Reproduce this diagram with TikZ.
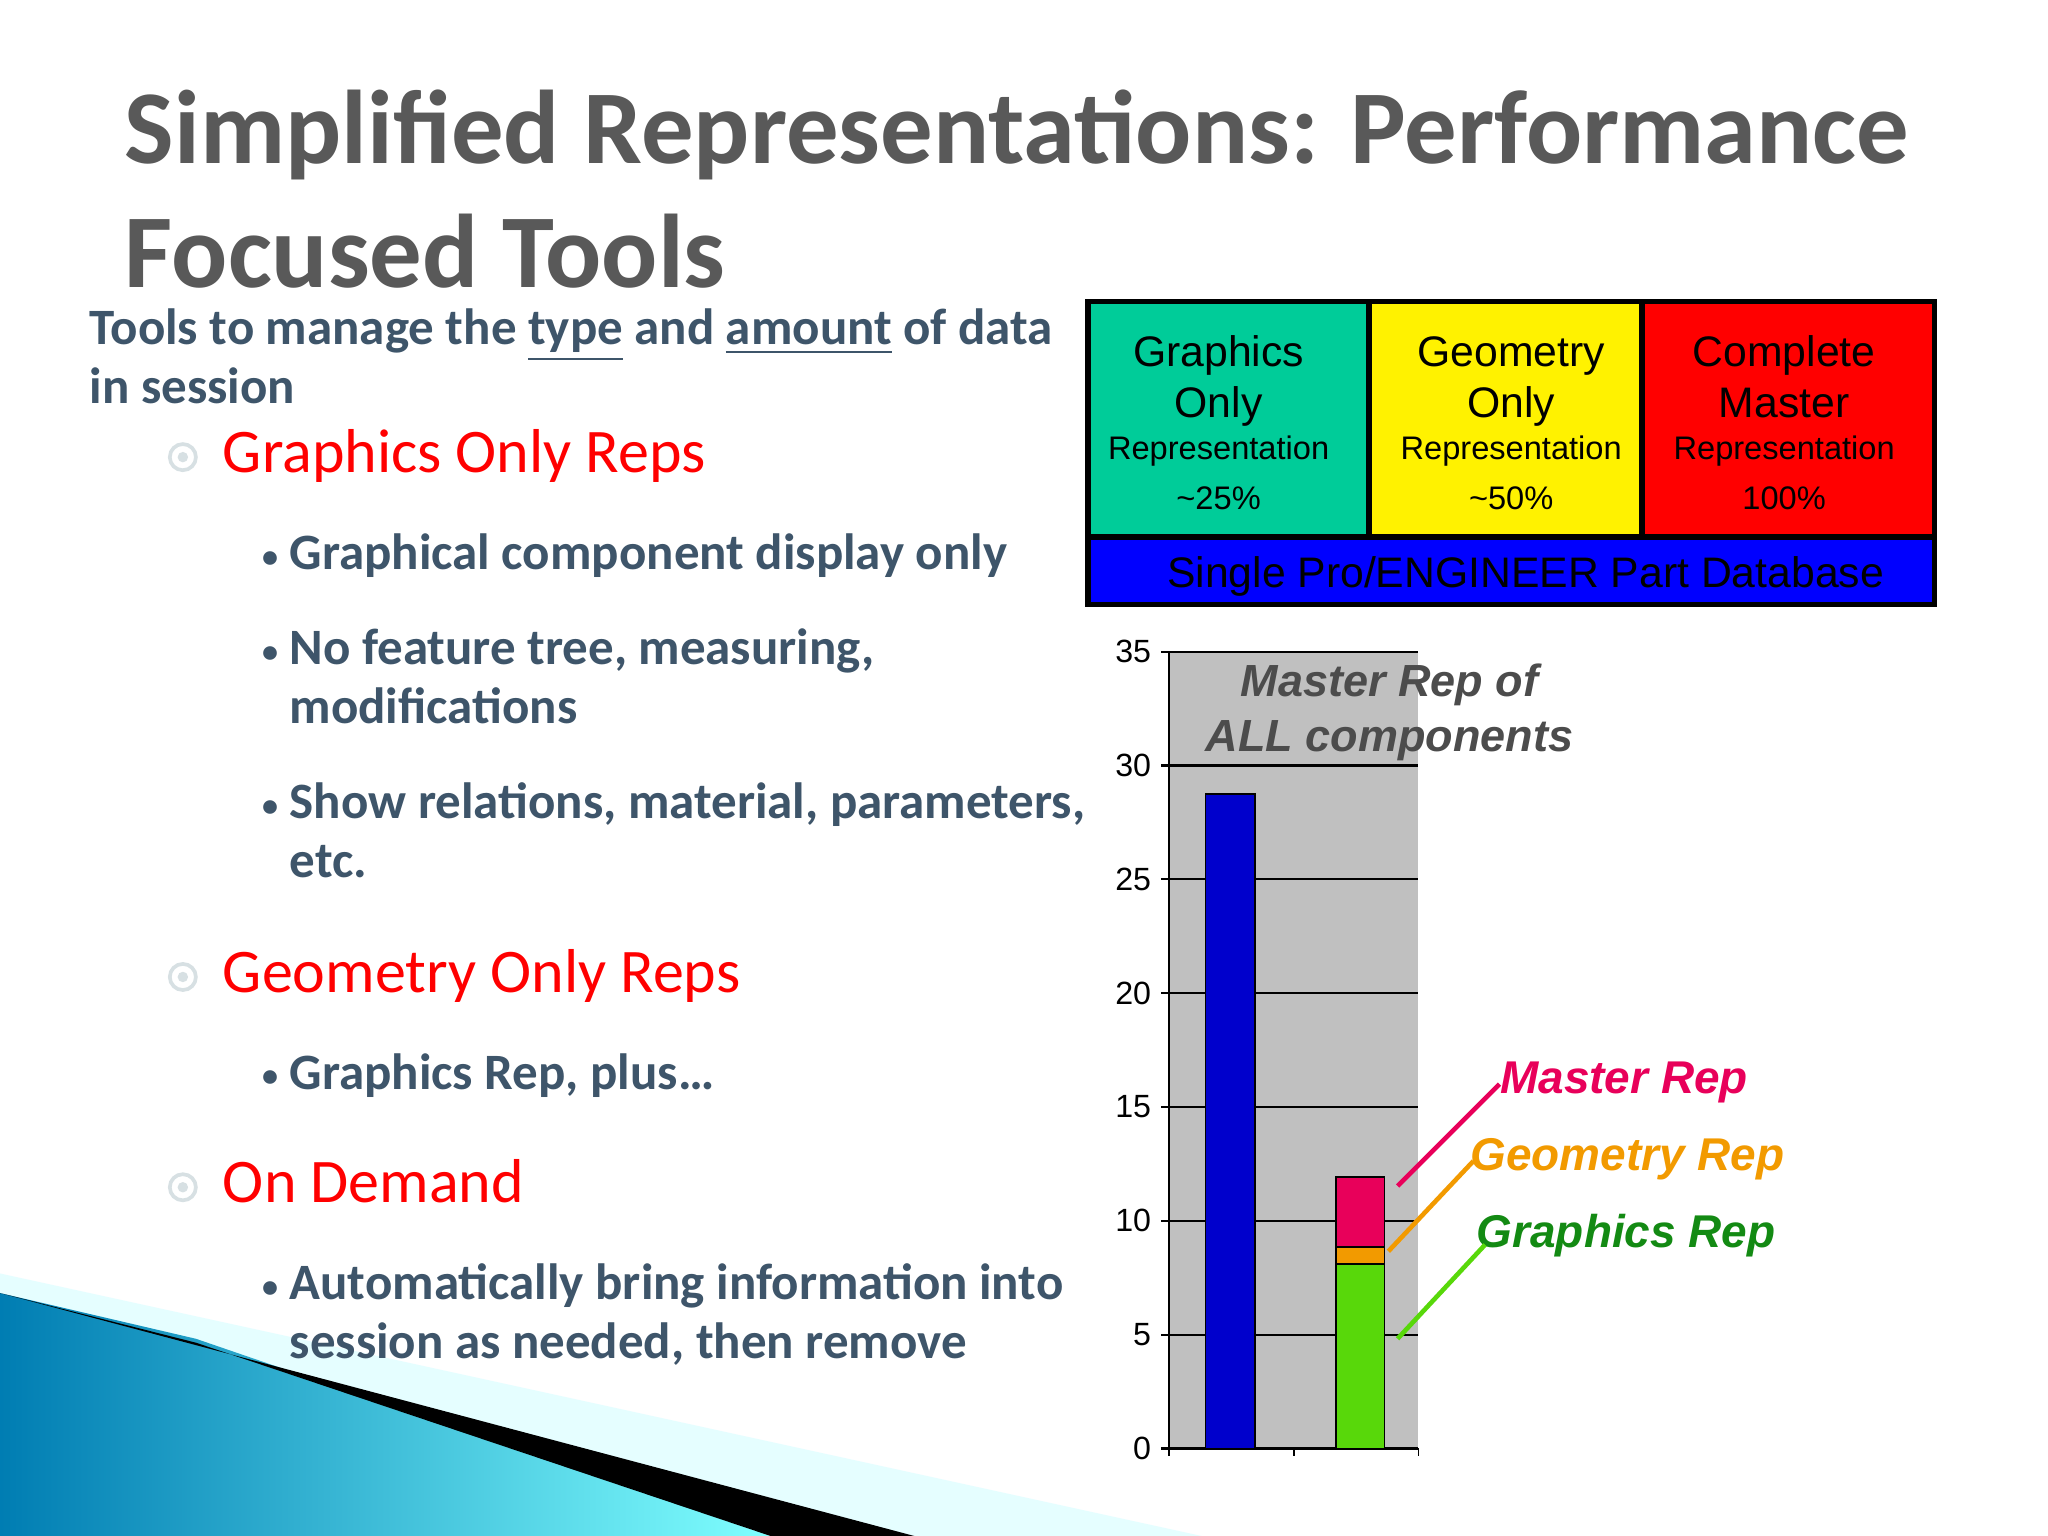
\documentclass[tikz,border=0pt]{standalone}
\usepackage{fontspec}
\setmainfont{Carlito}
\newfontfamily\arial{Liberation Sans}
\definecolor{slate}{HTML}{3E556A}
\definecolor{ttl}{HTML}{595959}
\definecolor{teal}{HTML}{00CC99}
\definecolor{mpink}{HTML}{E8005A}
\definecolor{gorange}{HTML}{F29A00}
\definecolor{ggreen}{HTML}{138A13}
\definecolor{lgreen}{HTML}{58D80A}
\definecolor{chartgray}{HTML}{C0C0C0}
\newcommand{\bul}{{\fontsize{7}{8}\selectfont\raisebox{0.15ex}{\textbullet}}\ }
\begin{document}
\begin{tikzpicture}[x=0.01cm,y=-0.01cm,
  ttlstyle/.style={anchor=base west,inner sep=0,font=\fontsize{22.8}{28}\selectfont\bfseries,text=ttl},
  body/.style={anchor=base west,inner sep=0,font=\fontsize{11.1}{12.8}\selectfont\bfseries,text=slate,align=left},
  head/.style={anchor=base west,inner sep=0,font=\fontsize{13.5}{17}\selectfont,text=red},
  cell/.style={draw=black,line width=1.2pt,inner sep=0},
  celltxt/.style={anchor=base,align=center,inner sep=0},
  bigtxt/.style={celltxt,font=\arial\fontsize{9.3}{11.3}\selectfont},
  smalltxt/.style={celltxt,font=\arial\fontsize{7.1}{10.8}\selectfont},
  ylab/.style={anchor=east,font=\arial\fontsize{7}{8}\selectfont,inner sep=0},
  leg/.style={anchor=base west,inner sep=0,font=\arial\fontsize{10}{13}\selectfont\bfseries\itshape}]
\useasboundingbox (0,0) rectangle (1568,1176);
\fill[white] (0,0) rectangle (1568,1176);
% bottom-left decoration
\fill[blue!5!cyan!10] (0,975) -- (920,1176) -- (0,1176) -- cycle;
\shade[left color=cyan!70!blue!70!black, right color=cyan!50] (0,990) -- (150,1025) -- (590,1176) -- (0,1176) -- cycle;
\fill[black] (0,990) -- (700,1176) -- (590,1176) -- (150,1028) -- cycle;
% title
\node[ttlstyle] (t1) at (95,125) {Simplified Representations: Performance};
\node[ttlstyle] (t2) at (95,220) {Focused Tools};
% body
\node[body] (b0) at (68,309) {Tools to manage the \underline{type} and \underline{amount} of data\\in session};
\foreach \y/\n in {350/c1,748/c2,909/c3}{
  \draw[cyan!20!gray!30,line width=0.8pt] (140,\y) circle (10);
  \fill[cyan!20!gray!30] (140,\y) circle (4);
}
\node[head] (h1) at (170,362) {Graphics Only Reps};
\node[body] (p1) at (200,436) {\bul Graphical component display only};
\node[body] (p2) at (200,554) {\bul No feature tree, measuring,\\\hphantom{\bul}modifications};
\node[body] (p3) at (200,672) {\bul Show relations, material, parameters,\\\hphantom{\bul}etc.};
\node[head] (h2) at (170,760) {Geometry Only Reps};
\node[body] (p4) at (200,834) {\bul Graphics Rep, plus…};
\node[head] (h3) at (170,921) {On Demand};
\node[body] (p5) at (200,1040) {\bul Automatically bring information into\\\hphantom{\bul}session as needed, then remove};
% table
\draw[cell,fill=teal] (833,231) rectangle (1048,411);
\draw[cell,fill=yellow] (1048,231) rectangle (1257,411);
\draw[cell,fill=red] (1257,231) rectangle (1481,411);
\draw[cell,fill=blue] (833,411) rectangle (1481,463);
\node[bigtxt] (g1) at (933,320) {Graphics\\Only};
\node[bigtxt] (g2) at (1157,320) {Geometry\\Only};
\node[bigtxt] (g3) at (1366,320) {Complete\\Master};
\node[smalltxt] (r1) at (933,390) {Representation\\\textasciitilde25\%};
\node[smalltxt] (r2) at (1157,390) {Representation\\\textasciitilde50\%};
\node[smalltxt] (r3) at (1366,390) {Representation\\100\%};
\node[bigtxt] (db) at (1168,450) {Single Pro/ENGINEER Part Database};
% chart
\fill[chartgray] (895,499) rectangle (1086,1109);
\foreach \v in {0,5,...,35}{
  \draw[black,line width=0.5pt] (889,{1109-17.43*\v}) -- (1086,{1109-17.43*\v});
  \node[ylab] at (882,{1109-17.43*\v}) {\v};
}
\draw[black,line width=0.6pt] (895,499) -- (895,1115);
\draw[black,line width=0.6pt] (895,1109) -- (1086,1109);
\foreach \x in {895,991,1086} \draw[black] (\x,1109) -- (\x,1115);
\draw[black,fill=blue!80!black] (923,1109) rectangle (961,608);
\draw[black,fill=lgreen] (1023,1109) rectangle (1060,968);
\draw[black,fill=gorange] (1023,968) rectangle (1060,955);
\draw[black,fill=mpink] (1023,955) rectangle (1060,901);
\node[anchor=base,align=center,inner sep=0,font=\arial\fontsize{9.8}{11.8}\selectfont\bfseries\itshape,text=black!70] (mt) at (1064,575) {Master Rep of\\ALL components};
\node[leg,text=mpink] (l1) at (1148,837) {Master Rep};
\node[leg,text=gorange] (l2) at (1125,896) {Geometry Rep};
\node[leg,text=ggreen] (l3) at (1130,955) {Graphics Rep};
\coordinate (e1) at (1070,908); \coordinate (e2) at (1063,958); \coordinate (e3) at (1070,1025);
\draw[mpink,line width=1pt] (e1) -- ([yshift=0.07cm]l1.base west);
\draw[gorange,line width=1pt] (e2) -- ([xshift=0.03cm,yshift=0.07cm]l2.base west);
\draw[lgreen,line width=1pt] (e3) -- ([xshift=0.07cm,yshift=0.02cm]l3.base west);
\end{tikzpicture}
\end{document}
